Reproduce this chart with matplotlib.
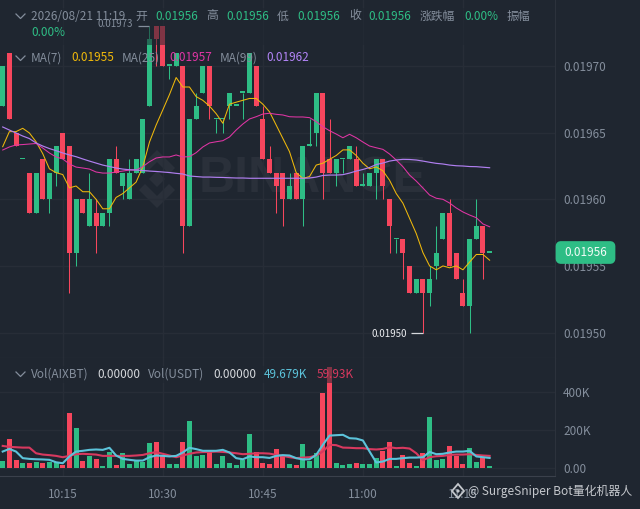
import matplotlib
matplotlib.use('Agg')
import matplotlib.pyplot as plt
import matplotlib.patches as mpatches
from matplotlib.lines import Line2D

plt.rcParams['font.family'] = ['Noto Sans CJK SC', 'DejaVu Sans']

# prices are in units of 0.00001
opens = [1967, 1971, 1965, 1963, 1962, 1959, 1963, 1960, 1962, 1965,
         1964, 1956, 1960, 1958, 1959, 1958, 1959, 1963, 1961, 1960,
         1962, 1962, 1967, 1973, 1973, 1970, 1970, 1970, 1958, 1966,
         1968, 1970, 1966, 1966, 1967, 1967, 1968, 1968, 1970, 1966,
         1963, 1962, 1962, 1960, 1962, 1960, 1964, 1965, 1968, 1963,
         1962, 1963, 1963, 1963, 1961, 1961, 1962, 1963, 1960, 1957,
         1957, 1955, 1953, 1954, 1953, 1955, 1957, 1959, 1956, 1953,
         1952, 1957, 1958, 1956]
closes = [1970, 1966, 1964, 1963, 1959, 1962, 1960, 1962, 1964, 1963,
          1956, 1960, 1959, 1960, 1958, 1959, 1963, 1962, 1962, 1962,
          1963, 1966, 1972, 1972, 1970, 1970, 1971, 1958, 1966, 1967,
          1970, 1967, 1966, 1966, 1968, 1967, 1968, 1971, 1967, 1963,
          1962, 1961, 1960, 1961, 1960, 1964, 1964, 1968, 1962, 1962,
          1963, 1963, 1964, 1961, 1961, 1962, 1963, 1961, 1958, 1957,
          1956, 1953, 1954, 1953, 1954, 1956, 1959, 1955, 1954, 1952,
          1957, 1958, 1956, 1956]
highs = [1970, 1971, 1965, 1963, 1962, 1962, 1963, 1962, 1964, 1965,
         1964, 1960, 1960, 1962, 1960, 1959, 1963, 1964, 1962, 1963,
         1963, 1966, 1973, 1973, 1973, 1970, 1971, 1970, 1966, 1968,
         1970, 1970, 1966, 1966, 1968, 1967, 1968, 1971, 1970, 1967,
         1964, 1962, 1962, 1962, 1962, 1964, 1966, 1968, 1968, 1966,
         1963, 1963, 1964, 1964, 1962, 1962, 1963, 1963, 1960, 1957,
         1957, 1955, 1954, 1954, 1955, 1958, 1959, 1960, 1956, 1954,
         1957, 1960, 1958, 1956]
lows = [1967, 1966, 1964, 1963, 1959, 1959, 1960, 1959, 1961, 1963,
        1953, 1955, 1959, 1958, 1956, 1958, 1958, 1962, 1960, 1960,
        1962, 1962, 1967, 1970, 1970, 1969, 1970, 1956, 1958, 1966,
        1968, 1966, 1965, 1965, 1966, 1967, 1966, 1968, 1967, 1963,
        1962, 1959, 1958, 1960, 1960, 1958, 1964, 1964, 1960, 1962,
        1961, 1962, 1963, 1961, 1961, 1961, 1960, 1960, 1956, 1956,
        1954, 1953, 1953, 1950, 1952, 1954, 1957, 1955, 1954, 1952,
        1950, 1957, 1954, 1956]

ma7 = [1963.95, 1965.08, 1965.08, 1965.33, 1964.98, 1964.32, 1963.43, 1962.29, 1962.00, 1961.86,
       1960.86, 1961.00, 1960.57, 1960.57, 1960.00, 1959.29, 1959.29, 1960.14, 1960.43, 1960.86,
       1961.29, 1962.43, 1964.29, 1965.57, 1966.71, 1967.86, 1969.14, 1968.43, 1968.43, 1967.71,
       1967.43, 1967.00, 1966.43, 1965.71, 1967.14, 1967.29, 1967.43, 1967.57, 1967.57, 1967.14,
       1966.57, 1965.57, 1964.57, 1963.57, 1962.00, 1961.57, 1961.71, 1962.57, 1962.71, 1963.00,
       1963.29, 1963.71, 1963.71, 1963.29, 1962.71, 1962.29, 1962.43, 1962.14, 1961.43, 1960.43,
       1959.71, 1958.57, 1957.43, 1956.00, 1955.00, 1954.71, 1955.00, 1954.86, 1955.00, 1954.71,
       1955.29, 1955.86, 1955.86, 1955.43]
ma25 = [1963.70, 1963.93, 1964.08, 1964.11, 1964.15, 1964.19, 1963.85, 1963.48, 1963.18, 1963.03,
        1962.65, 1962.42, 1962.35, 1962.27, 1962.05, 1961.97, 1961.97, 1962.05, 1962.12, 1962.20,
        1962.20, 1962.45, 1962.82, 1963.10, 1963.18, 1963.18, 1963.33, 1963.18, 1963.20, 1963.50,
        1963.93, 1964.23, 1964.32, 1964.40, 1964.68, 1965.20, 1965.65, 1966.03, 1966.20, 1966.40,
        1966.46, 1966.38, 1966.33, 1966.20, 1966.18, 1966.18, 1966.13, 1965.83, 1965.45, 1965.15,
        1964.90, 1964.62, 1964.88, 1964.62, 1964.30, 1964.00, 1963.87, 1963.75, 1963.40, 1962.95,
        1962.45, 1961.82, 1961.37, 1960.85, 1960.32, 1960.08, 1960.00, 1959.72, 1959.35, 1959.05,
        1958.82, 1958.62, 1958.15, 1957.94]
ma99 = [1965.43, 1965.20, 1964.98, 1964.75, 1964.56, 1964.23, 1964.00, 1963.81, 1963.65, 1963.48,
        1963.33, 1963.20, 1963.03, 1962.87, 1962.72, 1962.57, 1962.46, 1962.35, 1962.27, 1962.22,
        1962.20, 1962.16, 1962.12, 1962.09, 1962.05, 1962.01, 1961.95, 1961.90, 1961.75, 1961.71,
        1961.67, 1961.67, 1961.65, 1961.64, 1961.62, 1961.60, 1961.60, 1961.58, 1961.58, 1961.58,
        1961.58, 1961.58, 1961.58, 1961.58, 1961.58, 1961.58, 1961.60, 1961.67, 1961.79, 1961.82,
        1961.82, 1961.85, 1961.97, 1962.12, 1962.24, 1962.39, 1962.61, 1962.72, 1962.87, 1962.95,
        1963.00, 1962.99, 1962.95, 1962.87, 1962.78, 1962.70, 1962.65, 1962.57, 1962.52, 1962.50,
        1962.46, 1962.45, 1962.41, 1962.37]

# volume in thousands
volumes = [35, 152, 39, 25, 23, 30, 23, 27, 32, 14,
           289, 209, 35, 64, 43, 9, 85, 14, 76, 19,
           35, 32, 128, 137, 62, 19, 19, 138, 246, 64,
           67, 80, 19, 64, 25, 12, 41, 181, 81, 25,
           18, 97, 59, 21, 14, 126, 35, 76, 397, 536,
           25, 16, 19, 25, 19, 19, 50, 90, 137, 9,
           67, 23, 9, 76, 271, 41, 44, 112, 59, 19,
           105, 32, 55, 7]
vol_ma_cyan = [85, 99, 85, 50, 46, 44, 43, 41, 28, 23,
               59, 85, 89, 94, 96, 94, 105, 64, 46, 41,
               37, 37, 55, 64, 62, 59, 62, 80, 105, 98,
               89, 89, 89, 94, 80, 50, 44, 59, 55, 55,
               51, 62, 66, 64, 50, 43, 44, 67, 121, 170,
               172, 174, 156, 154, 144, 85, 27, 32, 46, 46,
               50, 53, 53, 55, 83, 71, 73, 80, 85, 85,
               89, 59, 55, 51]
vol_ma_red = [115, 110, 108, 106, 106, 76, 69, 66, 62, 55,
              62, 71, 73, 71, 69, 62, 62, 62, 62, 62,
              64, 67, 76, 82, 73, 64, 55, 64, 73, 80,
              82, 83, 85, 83, 80, 76, 71, 73, 76, 76,
              74, 67, 62, 55, 50, 53, 55, 64, 85, 121,
              119, 106, 105, 103, 103, 98, 96, 99, 108, 103,
              105, 101, 76, 39, 55, 60, 62, 67, 69, 69,
              71, 67, 64, 62]

price_ticks = [1950, 1955, 1960, 1965, 1970]
price_labels = ['0.01950', '0.01955', '0.01960', '0.01965', '0.01970']
vol_ticks = [0, 200, 400]
vol_labels = ['0.00', '200K', '400K']
time_ticks = [9, 24, 39, 54, 69]
time_labels = ['10:15', '10:30', '10:45', '11:00', '11:15']

W, H = 640, 509
BG = '#1f2630'
GRID = '#272d37'
MARK = '#2a303a'
EDGE = '#3a404b'
GRAY = '#848e9c'
UP = '#2ebd85'
DOWN = '#f6465d'


def fx(x):
    return x / W


def fy(y):
    return 1 - y / H


def put(x, y, s, color=GRAY, size=8.5, ha='left'):
    return fig.text(fx(x), fy(y), s, color=color, fontsize=size, ha=ha, va='center', zorder=10)


def chevron(x, y):
    fig.add_artist(Line2D([fx(x), fx(x + 4.5), fx(x + 9)], [fy(y - 2), fy(y + 2.5), fy(y - 2)],
                          color=GRAY, lw=0.9, zorder=10))


fig = plt.figure(figsize=(6.4, 5.09), dpi=100, facecolor=BG)
ax = fig.add_axes([0, fy(358), fx(555), 358 / H])
ax_vol = fig.add_axes([0, fy(476), fx(555), 118 / H])

for a in (ax, ax_vol):
    a.set_facecolor(BG)
    a.set_xlim(-0.405, 82.8)
    a.yaxis.tick_right()
    a.grid(True, color=GRID, lw=1)
    a.set_axisbelow(True)
    for side in ('top', 'left'):
        a.spines[side].set_visible(False)
    a.spines['right'].set_color('#2c323c')
    a.spines['bottom'].set_color(EDGE)
    a.tick_params(length=0, colors=GRAY, labelsize=8.5)
    a.set_xticks(time_ticks)

ax.set_ylim(1948.09, 1974.96)
ax.set_yticks(price_ticks)
ax.set_yticklabels(price_labels)
ax.tick_params(axis='y', pad=5.8)
ax.tick_params(axis='x', labelbottom=False)

ax_vol.set_ylim(-45, 582.5)
ax_vol.set_yticks(vol_ticks)
ax_vol.set_yticklabels(vol_labels)
ax_vol.tick_params(axis='y', pad=5.8)
ax_vol.set_xticklabels(time_labels)
ax_vol.tick_params(axis='x', pad=9)

# watermark
ax.text(fx(199), fy(179), 'BINANCE', transform=fig.transFigure, color=MARK, fontsize=36,
        fontweight='bold', ha='left', va='center', zorder=0.5, family='Liberation Sans')
logo_shapes = [
    [(139, 168), (157, 150), (175, 168), (169, 174), (157, 162), (145, 174)],
    [(139, 190), (157, 208), (175, 190), (169, 184), (157, 196), (145, 184)],
    [(157, 171), (165, 179), (157, 187), (149, 179)],
]
for shape in logo_shapes:
    ax.add_patch(mpatches.Polygon([(fx(px), fy(py)) for px, py in shape], transform=fig.transFigure,
                                  facecolor=MARK, edgecolor='none', zorder=0.5))

idx = list(range(len(opens)))
for i in idx:
    col = UP if closes[i] >= opens[i] else DOWN
    ax.vlines(i, lows[i], highs[i], color=col, lw=0.75, zorder=2)
    body = max(abs(closes[i] - opens[i]), 0.12)
    ax.bar(i, body, bottom=min(opens[i], closes[i]), width=0.74, color=col, zorder=2)
    ax_vol.bar(i, volumes[i], width=0.74, color=col, zorder=2)

ax.plot(idx, ma7, color='#f0b90b', lw=0.75, zorder=3)
ax.plot(idx, ma25, color='#e135a5', lw=0.75, zorder=3)
ax.plot(idx, ma99, color='#b07ff0', lw=0.85, zorder=3)
ax_vol.plot(idx, vol_ma_red, color='#d8395f', lw=1.5, zorder=3)
ax_vol.plot(idx, vol_ma_cyan, color='#5cc3da', lw=1.5, zorder=3)

# dim strips behind the legend rows
ax.add_patch(mpatches.Rectangle((0, fy(45)), fx(535), 37 / H, transform=fig.transFigure,
                                facecolor=BG, edgecolor='none', alpha=0.55, zorder=5))
ax_vol.add_patch(mpatches.Rectangle((fx(12), fy(383)), fx(345), 17 / H, transform=fig.transFigure,
                                    facecolor=BG, edgecolor='none', alpha=0.55, zorder=5))

# high / low markers
ax.hlines(max(highs), 20.3, 22, color=GRAY, lw=0.9, zorder=6)
put(98, 24, '0.01973', size=7)
ax.hlines(min(lows), 61.2, 63, color='#d5d8dc', lw=0.9, zorder=6)
put(372, 334, '0.01950', color='#eaecef', size=7)

# header rows
chevron(16, 16)
put(31, 16, '2026/08/21 11:19')
for x, s in zip([135, 206, 277, 349], ['开', '高', '低', '收']):
    put(x, 16, s)
for x in [155, 226, 297, 368]:
    put(x, 16, '0.01956', color=UP)
put(420, 16, '涨跌幅')
put(464, 16, '0.00%', color=UP)
put(507, 16, '振幅')
put(31, 32, '0.00%', color=UP)

chevron(16, 58)
put(31, 58, 'MA(7)')
put(71, 58, '0.01955', color='#f0b90b')
put(122, 58, 'MA(25)')
put(169, 58, '0.01957', color='#e135a5')
put(220, 58, 'MA(99)')
put(266, 58, '0.01962', color='#b385f8')

chevron(16, 374)
put(31, 374, 'Vol(AIXBT)')
put(97, 374, '0.00000', color='#d5d8dc')
put(148, 374, 'Vol(USDT)')
put(213, 374, '0.00000', color='#d5d8dc')
put(264, 374, '49.679K', color='#5cc3da')
put(317, 374, '59.93K', color='#d8395f')

# last price box
fig.add_artist(mpatches.FancyBboxPatch((fx(560.5), fy(259)), fx(50), 13 / H, transform=fig.transFigure,
                                       boxstyle=mpatches.BoxStyle('Round', pad=0.0), facecolor=UP,
                                       edgecolor=UP, lw=7, joinstyle='round', zorder=9))
put(585.5, 252.5, '0.01956', color='#f2fbf7', ha='center')

# bottom right credit
fig.add_artist(mpatches.Polygon([(fx(px), fy(py)) for px, py in [(458, 484), (464, 491), (458, 498), (452, 491)]],
                                transform=fig.transFigure, facecolor='none', edgecolor='#c4c7cc', lw=1.3, zorder=10))
fig.add_artist(mpatches.Polygon([(fx(px), fy(py)) for px, py in [(458, 489), (460, 491), (458, 493), (456, 491)]],
                                transform=fig.transFigure, facecolor='#c4c7cc', edgecolor='none', zorder=10))
put(468, 491, '@ SurgeSniper Bot量化机器人', color='#c4c7cc', size=8.6)

fig.savefig('out.png', dpi=100, facecolor=BG)
